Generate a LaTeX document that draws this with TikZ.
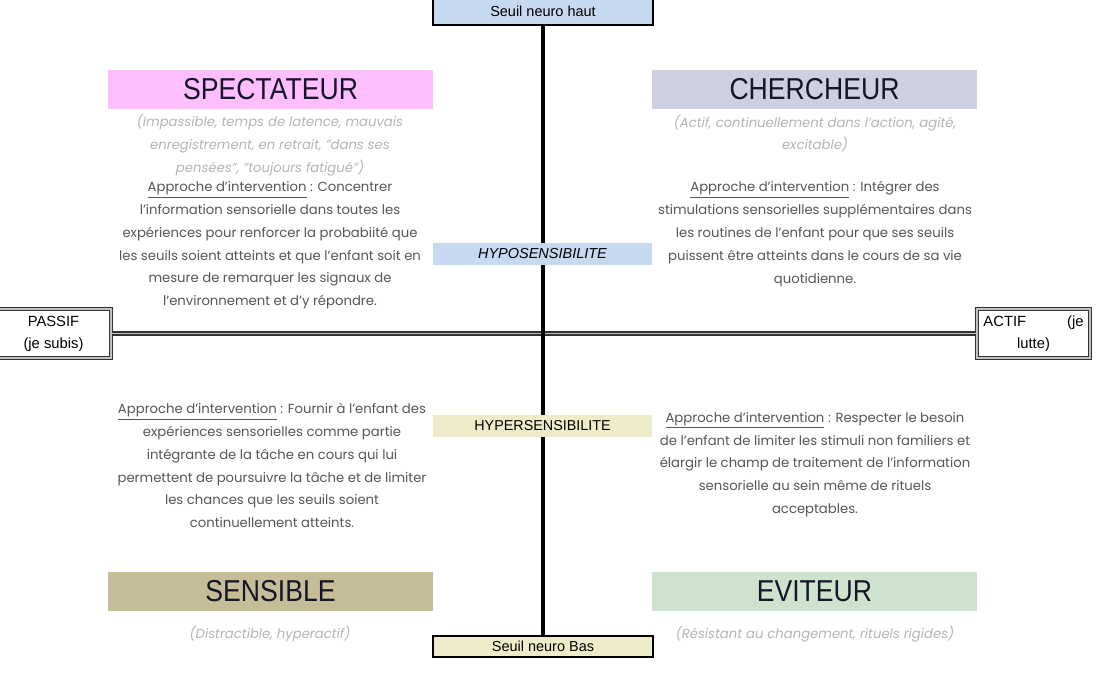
\documentclass[tikz,border=0pt]{standalone}
\usepackage{fontspec}
\setmainfont{Poppins}
\newfontfamily\titlefont{Liberation Sans}[FakeStretch=0.88]
\newfontfamily\labelfont{Liberation Sans}
\definecolor{spectfill}{HTML}{FFBFFF}
\definecolor{cherchfill}{HTML}{CCD0E0}
\definecolor{sensifill}{HTML}{C4BD97}
\definecolor{evitfill}{HTML}{CDE3CD}
\definecolor{hypofill}{HTML}{C6D9F0}
\definecolor{hyperfill}{HTML}{EEECC8}
\definecolor{bodygray}{HTML}{555555}
\definecolor{descgray}{HTML}{B4B4B4}
\definecolor{titleink}{HTML}{16162A}

\begin{document}
\begin{tikzpicture}[x=0.025cm,y=-0.025cm,
  titlebox/.style={minimum width=8.125cm,minimum height=0.975cm,inner sep=0pt,text=titleink,font={\titlefont\fontsize{21.5}{23}\selectfont}},
  bodytext/.style={align=center,inner sep=0pt,text=bodygray,font={\fontsize{9.4}{16.2}\selectfont}},
  desctext/.style={align=center,inner sep=0pt,text=descgray,font={\itshape\fontsize{9.4}{16.2}\selectfont}},
  seuilbox/.style={draw=black,line width=1.6pt,minimum width=5.5cm,inner sep=0pt,font={\labelfont\fontsize{10.3}{11}\selectfont}},
  sensbox/.style={minimum width=5.475cm,minimum height=0.55cm,inner sep=0pt},
  sideline/.style={draw=gray!40!black,double=gray!50,double distance=1.2pt,line width=0.9pt},
  sidebox/.style={sideline,minimum height=1.225cm,inner sep=0pt,align=center,font={\labelfont\fontsize{10.5}{15.5}\selectfont}}]
\useasboundingbox (0,0) rectangle (1099,676);

% Seuils (top and bottom of the axis)
\node[seuilbox,fill=hypofill,minimum height=0.7cm] (haut) at (543,11) {Seuil neuro haut};
\node[seuilbox,fill=hyperfill,minimum height=0.525cm] (bas) at (543,646.5) {Seuil neuro Bas};

% Passif / actif axis
\node[sidebox,minimum width=2.875cm] (passif) at (53.5,333.5) {PASSIF\\(je subis)};
\node[sidebox,minimum width=2.825cm] (actif) at (1033.5,333.5) {\makebox[2.5cm][s]{ACTIF\hfill(je}\\lutte)};
\draw[sideline] (passif) -- (actif);
\draw[line width=2.6pt] (haut) -- (bas);

% Hypo / hyper labels on the axis
\node[sensbox,fill=hypofill,font={\labelfont\itshape\fontsize{10.3}{11}\selectfont}] (hypo) at (542.5,254) {HYPOSENSIBILITE};
\node[sensbox,fill=hyperfill,font={\labelfont\fontsize{10.2}{11}\selectfont}] (hyper) at (542.5,426) {HYPERSENSIBILITE};

% 4 profiles
\foreach \name/\x/\y/\col/\txt in {spect/270.5/89.5/spectfill/SPECTATEUR,cherch/814.5/89.5/cherchfill/CHERCHEUR,sensi/270.5/591.5/sensifill/SENSIBLE,evit/814.5/591.5/evitfill/EVITEUR} {
    \node[titlebox,fill=\col] (\name) at (\x,\y) {\txt};
}

% Descriptions (grey, italic)
\node[desctext] (spectdesc) at (270,145) {(Impassible, temps de latence, mauvais\\enregistrement, en retrait, "dans ses\\pensées", "toujours fatigué")};
\node[desctext] (cherchdesc) at (815,133.5) {(Actif, continuellement dans l'action, agité,\\excitable)};
\node[desctext] (sensidesc) at (270,634) {(Distractible, hyperactif)};
\node[desctext] (evitdesc) at (815,634) {(Résistant au changement, rituels rigides)};

% Approches d'intervention
\node[bodytext] (spectappr) at (270,245.5) {\underline{Approche d'intervention} : Concentrer\\l'information sensorielle dans toutes les\\expériences pour renforcer la probabiité que\\les seuils soient atteints et que l'enfant soit en\\mesure de remarquer les signaux de\\l'environnement et d'y répondre.};
\node[bodytext] (cherchappr) at (815,234) {\underline{Approche d'intervention} : Intégrer des\\stimulations sensorielles supplémentaires dans\\les routines de l'enfant pour que ses seuils\\puissent être atteints dans le cours de sa vie\\quotidienne.};
\node[bodytext] (sensiappr) at (272,465.5) {\underline{Approche d'intervention} : Fournir à l'enfant des\\expériences sensorielles comme partie\\intégrante de la tâche en cours qui lui\\permettent de poursuivre la tâche et de limiter\\les chances que les seuils soient\\continuellement atteints.};
\node[bodytext] (evitappr) at (815,464.5) {\underline{Approche d'intervention} : Respecter le besoin\\de l'enfant de limiter les stimuli non familiers et\\élargir le champ de traitement de l'information\\sensorielle au sein même de rituels\\acceptables.};
\end{tikzpicture}
\end{document}
